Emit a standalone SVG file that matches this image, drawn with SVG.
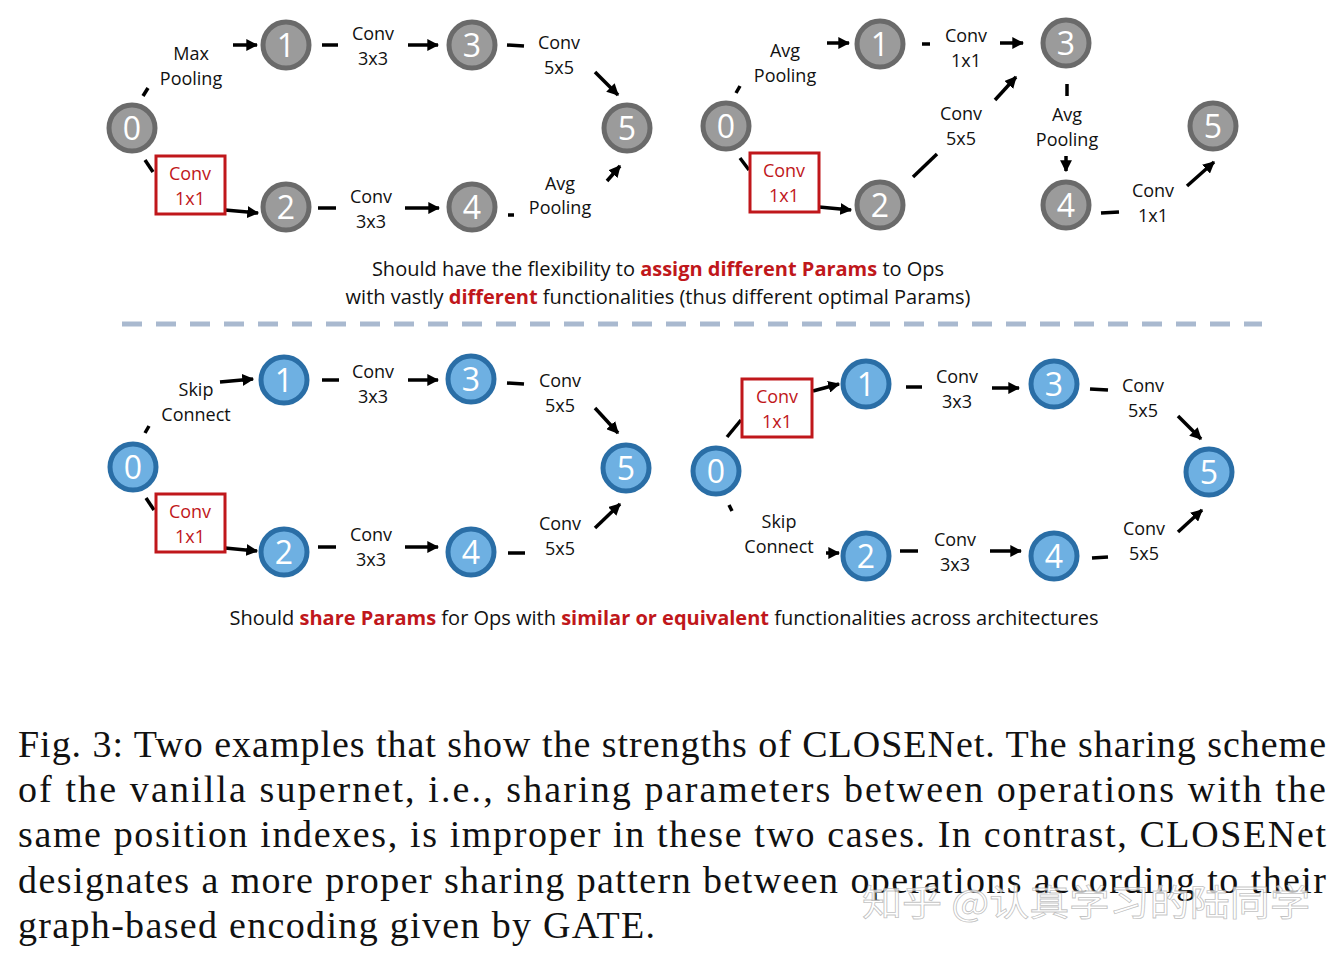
<svg xmlns="http://www.w3.org/2000/svg" width="1343" height="957" viewBox="0 0 1343 957">
<style>
.g circle{fill:#9b9b9b;stroke:#6a6a6a;stroke-width:5}
.b circle{fill:#6eb0e2;stroke:#2a6ea6;stroke-width:5}
.n text{font-family:"Open Sans","Liberation Sans",sans-serif;font-size:32px;fill:#fff;text-anchor:middle}
.l{font-family:"Open Sans","Liberation Sans",sans-serif;font-size:18px;fill:#111;text-anchor:middle}
.r{fill:#fff;stroke:#c0171b;stroke-width:3}
.rt{font-family:"Open Sans","Liberation Sans",sans-serif;font-size:18px;fill:#c0171b;text-anchor:middle}
.c line{stroke:#000;stroke-width:3.5}
.a{marker-end:url(#ah)}
.cap{font-family:"Open Sans","Liberation Sans",sans-serif;font-size:20px;fill:#111;text-anchor:middle}
.em{fill:#c0171b;font-weight:bold}
.fig{font-family:"Liberation Serif",serif;font-size:38px;fill:#111}
</style>
<defs>
<marker id="ah" viewBox="0 0 10 10" refX="9" refY="5" markerWidth="3.4" markerHeight="3.4" orient="auto" markerUnits="strokeWidth"><path d="M0,0L10,5L0,10z" fill="#000"/></marker>
</defs>
<rect width="1343" height="957" fill="#fff"/>
<g class="c" id="connectors">
<line x1="143" y1="96" x2="148" y2="88"/><line class="a" x1="233" y1="45" x2="257" y2="45"/>
<line x1="322" y1="45" x2="338" y2="45"/><line class="a" x1="408" y1="45" x2="438" y2="45"/>
<line x1="507" y1="45" x2="524" y2="46"/><line class="a" x1="595" y1="72" x2="618" y2="95"/>
<line x1="145" y1="160" x2="153" y2="172"/><line class="a" x1="225" y1="210" x2="258" y2="213"/>
<line x1="318" y1="208" x2="336" y2="208"/><line class="a" x1="405" y1="208" x2="439" y2="208"/>
<line x1="508" y1="215" x2="514" y2="215"/><line class="a" x1="607" y1="181" x2="620" y2="166"/>
<line x1="736" y1="93" x2="740" y2="86"/><line class="a" x1="827" y1="43" x2="849" y2="43"/>
<line x1="922" y1="44" x2="930" y2="44"/><line class="a" x1="1000" y1="43" x2="1023" y2="43"/>
<line x1="913" y1="177" x2="937" y2="154"/><line class="a" x1="995" y1="100" x2="1016" y2="77"/>
<line x1="740" y1="158" x2="749" y2="170"/><line class="a" x1="819" y1="207" x2="851" y2="210"/>
<line x1="1067" y1="84" x2="1067" y2="96"/><line class="a" x1="1066" y1="156" x2="1066" y2="171"/>
<line x1="1101" y1="213" x2="1119" y2="212"/><line class="a" x1="1187" y1="186" x2="1214" y2="162"/>
<line x1="145" y1="433" x2="149" y2="426"/><line class="a" x1="220" y1="382" x2="253" y2="379"/>
<line x1="322" y1="380" x2="339" y2="380"/><line class="a" x1="408" y1="380" x2="438" y2="380"/>
<line x1="507" y1="383" x2="524" y2="384"/><line class="a" x1="595" y1="408" x2="618" y2="433"/>
<line x1="146" y1="498" x2="154" y2="510"/><line class="a" x1="225" y1="548" x2="257" y2="551"/>
<line x1="318" y1="547" x2="336" y2="547"/><line class="a" x1="405" y1="547" x2="438" y2="547"/>
<line x1="508" y1="553" x2="525" y2="553"/><line class="a" x1="595" y1="528" x2="620" y2="504"/>
<line x1="727" y1="437" x2="741" y2="420"/><line class="a" x1="813" y1="391" x2="839" y2="384"/>
<line x1="906" y1="387" x2="922" y2="387"/><line class="a" x1="992" y1="388" x2="1019" y2="388"/>
<line x1="1090" y1="389" x2="1108" y2="390"/><line class="a" x1="1178" y1="416" x2="1201" y2="439"/>
<line x1="729" y1="505" x2="732" y2="511"/><line class="a" x1="826" y1="553" x2="839" y2="553"/>
<line x1="900" y1="551" x2="918" y2="551"/><line class="a" x1="990" y1="551" x2="1021" y2="551"/>
<line x1="1092" y1="558" x2="1108" y2="557"/><line class="a" x1="1178" y1="532" x2="1202" y2="510"/>
</g>
<g id="labels">
<text class="l" x="191" y="60">Max</text><text class="l" x="191" y="85">Pooling</text>
<text class="l" x="373" y="40">Conv</text><text class="l" x="373" y="65">3x3</text>
<text class="l" x="559" y="49">Conv</text><text class="l" x="559" y="74">5x5</text>
<text class="l" x="371" y="203">Conv</text><text class="l" x="371" y="228">3x3</text>
<text class="l" x="560" y="190">Avg</text><text class="l" x="560" y="214">Pooling</text>
<text class="l" x="785" y="57">Avg</text><text class="l" x="785" y="82">Pooling</text>
<text class="l" x="966" y="42">Conv</text><text class="l" x="966" y="67">1x1</text>
<text class="l" x="961" y="120">Conv</text><text class="l" x="961" y="145">5x5</text>
<text class="l" x="1067" y="121">Avg</text><text class="l" x="1067" y="146">Pooling</text>
<text class="l" x="1153" y="197">Conv</text><text class="l" x="1153" y="222">1x1</text>
<text class="l" x="196" y="396">Skip</text><text class="l" x="196" y="421">Connect</text>
<text class="l" x="373" y="378">Conv</text><text class="l" x="373" y="403">3x3</text>
<text class="l" x="560" y="387">Conv</text><text class="l" x="560" y="412">5x5</text>
<text class="l" x="371" y="541">Conv</text><text class="l" x="371" y="566">3x3</text>
<text class="l" x="560" y="530">Conv</text><text class="l" x="560" y="555">5x5</text>
<text class="l" x="957" y="383">Conv</text><text class="l" x="957" y="408">3x3</text>
<text class="l" x="1143" y="392">Conv</text><text class="l" x="1143" y="417">5x5</text>
<text class="l" x="779" y="528">Skip</text><text class="l" x="779" y="553">Connect</text>
<text class="l" x="955" y="546">Conv</text><text class="l" x="955" y="571">3x3</text>
<text class="l" x="1144" y="535">Conv</text><text class="l" x="1144" y="560">5x5</text>
</g>
<g id="box-tl"><rect class="r" x="156" y="156" width="69" height="58"/><text class="rt" x="190" y="180">Conv</text><text class="rt" x="190" y="205">1x1</text></g>
<g id="box-tr"><rect class="r" x="750" y="153" width="69" height="59"/><text class="rt" x="784" y="177">Conv</text><text class="rt" x="784" y="202">1x1</text></g>
<g id="box-bl"><rect class="r" x="156" y="494" width="69" height="58"/><text class="rt" x="190" y="518">Conv</text><text class="rt" x="190" y="543">1x1</text></g>
<g id="box-br"><rect class="r" x="742" y="379" width="70" height="58"/><text class="rt" x="777" y="403">Conv</text><text class="rt" x="777" y="428">1x1</text></g>
<g class="n g">
<g id="tl0"><circle cx="132" cy="128" r="23"/><text x="132" y="140">0</text></g>
<g id="tl1"><circle cx="286" cy="45" r="23"/><text x="286" y="57">1</text></g>
<g id="tl3"><circle cx="472" cy="45" r="23"/><text x="472" y="57">3</text></g>
<g id="tl5"><circle cx="627" cy="128" r="23"/><text x="627" y="140">5</text></g>
<g id="tl2"><circle cx="286" cy="207" r="23"/><text x="286" y="219">2</text></g>
<g id="tl4"><circle cx="472" cy="207" r="23"/><text x="472" y="219">4</text></g>
<g id="tr0"><circle cx="726" cy="126" r="23"/><text x="726" y="138">0</text></g>
<g id="tr1"><circle cx="880" cy="44" r="23"/><text x="880" y="56">1</text></g>
<g id="tr3"><circle cx="1066" cy="43" r="23"/><text x="1066" y="55">3</text></g>
<g id="tr2"><circle cx="880" cy="205" r="23"/><text x="880" y="217">2</text></g>
<g id="tr4"><circle cx="1066" cy="205" r="23"/><text x="1066" y="217">4</text></g>
<g id="tr5"><circle cx="1213" cy="126" r="23"/><text x="1213" y="138">5</text></g>
</g>
<g class="n b">
<g id="bl0"><circle cx="133" cy="467" r="23"/><text x="133" y="479">0</text></g>
<g id="bl1"><circle cx="284" cy="380" r="23"/><text x="284" y="392">1</text></g>
<g id="bl3"><circle cx="471" cy="379" r="23"/><text x="471" y="391">3</text></g>
<g id="bl5"><circle cx="626" cy="468" r="23"/><text x="626" y="480">5</text></g>
<g id="bl2"><circle cx="284" cy="552" r="23"/><text x="284" y="564">2</text></g>
<g id="bl4"><circle cx="471" cy="552" r="23"/><text x="471" y="564">4</text></g>
<g id="br0"><circle cx="716" cy="471" r="23"/><text x="716" y="483">0</text></g>
<g id="br1"><circle cx="866" cy="384" r="23"/><text x="866" y="396">1</text></g>
<g id="br3"><circle cx="1054" cy="384" r="23"/><text x="1054" y="396">3</text></g>
<g id="br5"><circle cx="1209" cy="472" r="23"/><text x="1209" y="484">5</text></g>
<g id="br2"><circle cx="866" cy="556" r="23"/><text x="866" y="568">2</text></g>
<g id="br4"><circle cx="1054" cy="556" r="23"/><text x="1054" y="568">4</text></g>
</g>
<g id="captions">
<text class="cap" x="658" y="276">Should have the flexibility to <tspan class="em">assign different Params</tspan> to Ops</text>
<text class="cap" x="658" y="304">with vastly <tspan class="em">different</tspan> functionalities (thus different optimal Params)</text>
<line x1="122" y1="324" x2="1262" y2="324" stroke="#a9b9cf" stroke-width="5" stroke-dasharray="20 14"/>
<text class="cap" x="664" y="625">Should <tspan class="em">share Params</tspan> for Ops with <tspan class="em">similar or equivalent</tspan> functionalities across architectures</text>
</g>
<g id="figcaption">
<text class="fig" x="18" y="757" textLength="1308" lengthAdjust="spacing">Fig. 3: Two examples that show the strengths of CLOSENet. The sharing scheme</text>
<text class="fig" x="18" y="802" textLength="1308" lengthAdjust="spacing">of the vanilla supernet, i.e., sharing parameters between operations with the</text>
<text class="fig" x="18" y="847" textLength="1308" lengthAdjust="spacing">same position indexes, is improper in these two cases. In contrast, CLOSENet</text>
<text class="fig" x="18" y="893" textLength="1308" lengthAdjust="spacing">designates a more proper sharing pattern between operations according to their</text>
<text class="fig" x="18" y="938" textLength="637" lengthAdjust="spacing">graph-based encoding given by GATE.</text>
<text x="862" y="916" textLength="448" lengthAdjust="spacingAndGlyphs" font-family="'Noto Sans CJK SC',sans-serif" font-size="36" fill="#ffffff" fill-opacity="0.75" stroke="#999" stroke-width="0.8" stroke-opacity="0.6">知乎 @认真学习的陆同学</text>
</g>
</svg>
